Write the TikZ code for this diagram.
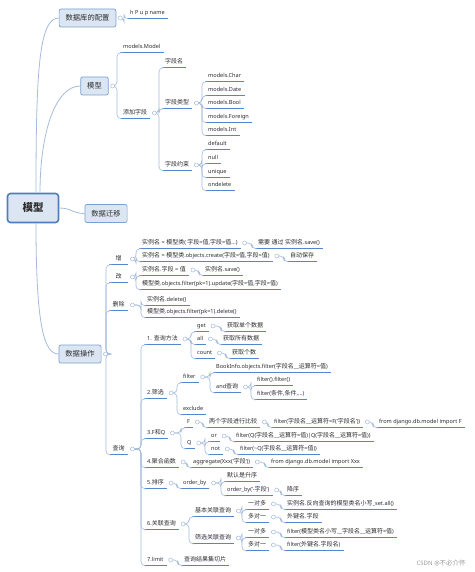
\documentclass[tikz,border=0pt]{standalone}
\usepackage{fontspec}
\setmainfont{Noto Sans}[Scale=0.93]
\newfontfamily\cjkf{Noto Sans CJK SC}
\XeTeXinterchartokenstate=1
\newXeTeXintercharclass\cjkcls
\newcount\cjkcnt
\cjkcnt="2E80
\loop
  \XeTeXcharclass\cjkcnt=\cjkcls
  \advance\cjkcnt by 1
  \ifnum\cjkcnt<"A000 \repeat
\cjkcnt="FF00
\loop
  \XeTeXcharclass\cjkcnt=\cjkcls
  \advance\cjkcnt by 1
  \ifnum\cjkcnt<"FFF0 \repeat
\XeTeXinterchartoks 0 \cjkcls = {\cjkf}
\XeTeXinterchartoks 4095 \cjkcls = {\cjkf}
\XeTeXinterchartoks \cjkcls 0 = {\rmfamily}
\XeTeXinterchartoks \cjkcls 4095 = {\rmfamily}

\definecolor{boxfill}{RGB}{220,230,243}
\definecolor{boxline}{RGB}{122,160,210}
\definecolor{rootline}{RGB}{79,126,190}
\definecolor{ulcol}{RGB}{84,134,204}
\definecolor{conncol}{RGB}{165,188,220}
\definecolor{txt}{RGB}{45,45,45}
\newcommand\leaffont{\fontsize{6}{7}\selectfont}
\newcommand\boxfont{\fontsize{7.3}{8}\selectfont}
\newcommand\rootfont{\fontsize{10.5}{12}\selectfont\bfseries}
\newcommand\qq{\char"27\relax}
\newcommand\lnk[3]{%
  \foreach \ch in {#3}{\draw[conn] ([xshift=6pt]#1.east) -| ([xshift=-3pt]\ch.south west) -- (\ch.south west);}%
  \node[dot] (#1o) at ([xshift=4pt]#1.east) {};%
}

\begin{document}
\begin{tikzpicture}[x=1pt,y=-1pt,
  uline/.style={draw=ulcol, line width=0.9pt},
  leaf/.style={anchor=west, inner xsep=3pt, inner ysep=2.6pt, text height=4.6pt, text depth=1.2pt, font=\leaffont, text=txt,
    append after command={(\tikzlastnode.south west) edge[uline] (\tikzlastnode.south east)}},
  conn/.style={draw=conncol, line width=0.6pt, rounded corners=4pt},
  rconn/.style={draw=conncol, line width=0.8pt},
  dot/.style={circle, draw=conncol, fill=white, line width=0.5pt, inner sep=0pt, minimum size=4pt},
  box/.style={draw=boxline, fill=boxfill, rounded corners=2pt, line width=0.7pt, inner xsep=6.5pt, inner ysep=0pt, minimum height=18pt, font=\boxfont, text=txt},
  rootbox/.style={draw=rootline, fill=boxfill, rounded corners=3pt, line width=1.6pt, minimum width=51pt, minimum height=29pt, font=\rootfont, text=txt},
  wide/.style={minimum width=19pt}]
\fill[white] (0,0) rectangle (474,572);
\useasboundingbox (0,0) rectangle (474,572);

% root and level 1
\node[rootbox] (R) at (33,208) {模型};
\node[box] (DB) at (87.5,18) {数据库的配置};
\node[box] (M) at (94.5,86) {模型};
\node[box] (MIG) at (106,213.5) {数据迁移};
\node[box] (OPS) at (80,354) {数据操作};
\draw[rconn] ([xshift=3pt]R.north) .. controls +(0,-120) and +(-20,0) .. (DB.west);
\draw[rconn] ([xshift=7pt]R.north) .. controls +(0,-60) and +(-25,0) .. (M.west);
\draw[rconn] (R.east) .. controls +(12,0) and +(-12,0) .. (MIG.west);
\draw[rconn] ([xshift=3pt]R.south) .. controls +(0,100) and +(-15,0) .. (OPS.west);

% database config
\node[leaf] (HP) at (127,13) {h P u p name};
\lnk{DB}{east}{HP}

% model
\node[leaf] (MM) at (120,47) {models.Model};
\node[leaf] (ADD) at (120,113) {添加字段};
\lnk{M}{east}{MM,ADD}
\node[leaf] (FN) at (162,62) {字段名};
\node[leaf] (FT) at (162,103) {字段类型};
\node[leaf] (FC) at (162,165) {字段约束};
\lnk{ADD}{south east}{FN,FT,FC}
\node[leaf] (T1) at (205,76) {models.Char};
\node[leaf] (T2) at (205,90) {models.Date};
\node[leaf] (T3) at (205,103) {models.Bool};
\node[leaf] (T4) at (205,117) {models.Foreign};
\node[leaf] (T5) at (205,130) {models.Int};
\lnk{FT}{south east}{T1,T2,T3,T4,T5}
\node[leaf] (C1) at (205,144) {default};
\node[leaf] (C2) at (205,158) {null};
\node[leaf] (C3) at (205,172) {unique};
\node[leaf] (C4) at (205,185) {ondelete};
\lnk{FC}{south east}{C1,C2,C3,C4}

% data operations
\node[leaf,wide] (ZENG) at (109,259) {增};
\node[leaf,wide] (GAI) at (109,277) {改};
\node[leaf,wide] (DEL) at (109,305) {删除};
\node[leaf,wide] (QRY) at (109,449) {查询};
\lnk{OPS}{east}{ZENG,GAI,DEL,QRY}

\node[leaf] (Z1) at (139,243) {实例名 = 模型类( 字段=值,字段=值...)};
\node[leaf] (Z2) at (139,256) {实例名 = 模型类.objects.create(字段=值,字段=值)};
\lnk{ZENG}{south east}{Z1,Z2}
\node[leaf] (Z1a) at (255,243) {需要 通过 实例名.save()};
\lnk{Z1}{south east}{Z1a}
\node[leaf] (Z2a) at (287,256) {自动保存};
\lnk{Z2}{south east}{Z2a}

\node[leaf] (G1) at (139,270) {实例名.字段 = 值};
\node[leaf] (G2) at (139,284) {模型类.objects.filter(pk=1).update(字段=值,字段=值)};
\lnk{GAI}{south east}{G1,G2}
\node[leaf] (G1a) at (202,270) {实例名.save()};
\lnk{G1}{south east}{G1a}

\node[leaf] (D1) at (144,300) {实例名.delete()};
\node[leaf] (D2) at (144,312) {模型类.objects.filter(pk=1).delete()};
\lnk{DEL}{south east}{D1,D2}

\node[leaf] (Q1) at (144,339) {1. 查询方法};
\node[leaf] (Q2) at (144,393) {2.筛选};
\node[leaf] (Q3) at (144,433) {3.F和Q};
\node[leaf] (Q4) at (144,462) {4.聚合函数};
\node[leaf] (Q5) at (144,483) {5.排序};
\node[leaf] (Q6) at (144,524) {6.关联查询};
\node[leaf] (Q7) at (144,560) {7.limit};
\lnk{QRY}{south east}{Q1,Q2,Q3,Q4,Q5,Q6,Q7}

% 1 query methods
\node[leaf] (get) at (194,326) {get};
\node[leaf] (all) at (194,339) {all};
\node[leaf] (cnt) at (194,353) {count};
\lnk{Q1}{south east}{get,all,cnt}
\node[leaf] (geta) at (224,326) {获取单个数据};
\lnk{get}{south east}{geta}
\node[leaf] (alla) at (220,339) {获取所有数据};
\lnk{all}{south east}{alla}
\node[leaf] (cnta) at (229,353) {获取个数};
\lnk{cnt}{south east}{cnta}

% 2 filter
\node[leaf] (flt) at (180,377) {filter};
\node[leaf] (exc) at (180,409) {exclude};
\lnk{Q2}{south east}{flt,exc}
\node[leaf] (bk) at (213,367) {BookInfo.objects.filter(字段名\_\_运算符=值)};
\node[leaf] (andq) at (213,387) {and查询};
\lnk{flt}{south east}{bk,andq}
\node[leaf] (ff) at (254,380) {filter().filter()};
\node[leaf] (fc) at (254,394) {filter(条件,条件,...)};
\lnk{andq}{south east}{ff,fc}

% 3 F and Q
\node[leaf] (Fn) at (184,422) {F};
\node[leaf] (Qn) at (184,443) {Q};
\lnk{Q3}{south east}{Fn,Qn}
\node[leaf] (F1) at (206,422) {两个字段进行比较};
\lnk{Fn}{south east}{F1}
\node[leaf] (F2) at (271,422) {filter(字段名\_\_运算符=F(\qq 字段名\qq))};
\lnk{F1}{south east}{F2}
\node[leaf] (F3) at (376,422) {from django.db.model import F};
\lnk{F2}{south east}{F3}
\node[leaf] (orn) at (208,436) {or};
\node[leaf] (notn) at (208,449) {not};
\lnk{Qn}{south east}{orn,notn}
\node[leaf] (ora) at (233,436) {filter(Q(字段名\_\_运算符=值)|Q(字段名\_\_运算符=值))};
\lnk{orn}{south east}{ora}
\node[leaf] (nota) at (237,449) {filter(\char"7E\relax Q(字段名\_\_运算符=值))};
\lnk{notn}{south east}{nota}

% 4 aggregate
\node[leaf] (ag) at (190,462) {aggregate(Xxx(\qq 字段\qq))};
\lnk{Q4}{south east}{ag}
\node[leaf] (agi) at (268,462) {from django.db.model import Xxx};
\lnk{ag}{south east}{agi}

% 5 order
\node[leaf] (ob) at (180,483) {order\_by};
\lnk{Q5}{south east}{ob}
\node[leaf] (asc) at (224,476) {默认是升序};
\node[leaf] (obd) at (224,490) {order\_by(\qq-字段\qq)};
\lnk{ob}{south east}{asc,obd}
\node[leaf] (desc) at (284,490) {降序};
\lnk{obd}{south east}{desc}

% 6 related queries
\node[leaf] (rb) at (192,511) {基本关联查询};
\node[leaf] (rf) at (192,538) {筛选关联查询};
\lnk{Q6}{south east}{rb,rf}
\node[leaf] (rb1) at (245,504) {一对多};
\node[leaf] (rb2) at (245,517) {多对一};
\lnk{rb}{south east}{rb1,rb2}
\node[leaf] (rb1a) at (284,504) {实例名.反向查询的模型类名小写\_set.all()};
\lnk{rb1}{south east}{rb1a}
\node[leaf] (rb2a) at (284,517) {外键名.字段};
\lnk{rb2}{south east}{rb2a}
\node[leaf] (rf1) at (245,532) {一对多};
\node[leaf] (rf2) at (245,545) {多对一};
\lnk{rf}{south east}{rf1,rf2}
\node[leaf] (rf1a) at (284,532) {filter(模型类名小写\_\_字段名\_\_运算符=值)};
\lnk{rf1}{south east}{rf1a}
\node[leaf] (rf2a) at (284,545) {filter(外键名.字段名)};
\lnk{rf2}{south east}{rf2a}

% 7 limit
\node[leaf] (lim) at (181,560) {查询结果集切片};
\lnk{Q7}{south east}{lim}

\node[anchor=east, font=\fontsize{6.5}{7}\selectfont, text=black!40] (wm) at (469,563) {CSDN @不必介怀};
\end{tikzpicture}
\end{document}
